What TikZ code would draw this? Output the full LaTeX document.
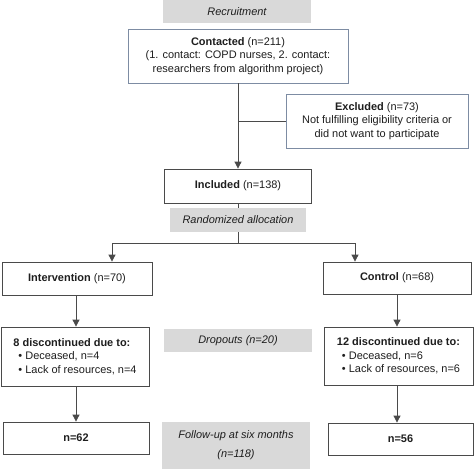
\documentclass[tikz,border=0pt]{standalone}
\usepackage{fontspec}
\setmainfont{Liberation Sans}
\usepackage{xcolor}
\usepackage{tikz}
\usetikzlibrary{arrows.meta}
\definecolor{ink}{HTML}{1E1E1E}
\definecolor{edge}{HTML}{4A4A4A}
\definecolor{bluish}{HTML}{7D8CA3}
\definecolor{band}{HTML}{D9D9D9}
\tikzset{
  box/.style={draw=edge, line width=0.8pt, fill=white, align=center, inner sep=2pt},
  bbox/.style={box, draw=bluish},
  stage/.style={fill=band, align=center, inner sep=2pt},
  link/.style={draw=edge, line width=0.8pt},
  arr/.style={link, -{Triangle[width=7pt,length=7pt]}},
  every node/.style={text=ink, font=\fontsize{11}{13.5}\selectfont}
}

\begin{document}
\begin{tikzpicture}[x=1bp,y=-1bp]
  \useasboundingbox (0,0) rectangle (474,470);

  % grey stage bands
  \node[stage, minimum width=148bp, minimum height=23bp] (recr) at (237,11.5) {\itshape Recruitment};
  \node[stage, minimum width=136bp, minimum height=24bp] (rand) at (238,220) {\itshape Randomized allocation};
  \node[stage, minimum width=148bp, minimum height=23bp] (drop) at (238,340.5) {\itshape Dropouts (n=20)};
  \node[stage, minimum width=148bp, minimum height=47bp] (fup) at (236,445.5) {\itshape Follow-up at six months\\[5.5pt]\itshape (n=118)};

  % boxes
  \node[bbox, minimum width=220bp, minimum height=54bp] (cont) at (238,56)
    {\textbf{Contacted} (n=211)\\(1. contact: COPD nurses, 2. contact:\\researchers from algorithm project)};
  \node[bbox, minimum width=182bp, minimum height=54bp] (excl) at (377,121)
    {\textbf{Excluded} (n=73)\\Not fulfilling eligibility criteria or\\did not want to participate};
  \node[box, minimum width=147bp, minimum height=34bp] (incl) at (238,186) {\textbf{Included} (n=138)};

  \node[box, minimum width=150bp, minimum height=33bp] (intv) at (77,278.5) {\textbf{Intervention} (n=70)};
  \node[box, minimum width=148bp, minimum height=32bp] (ctrl) at (397,278) {\textbf{Control} (n=68)};

  \node[box, minimum width=148bp, minimum height=59bp, align=left] (discL) at (75,356.5)
    {\textbf{8 discontinued due to:}\\\hspace{5bp}\textbullet\ Deceased, n=4\\\hspace{5bp}\textbullet\ Lack of resources, n=4};
  \node[box, minimum width=149bp, minimum height=58bp, align=left] (discR) at (398.5,356)
    {\textbf{12 discontinued due to:}\\\hspace{5bp}\textbullet\ Deceased, n=6\\\hspace{5bp}\textbullet\ Lack of resources, n=6};

  \node[box, minimum width=146bp, minimum height=32bp] (nL) at (76,438) {\textbf{n=62}};
  \node[box, minimum width=145bp, minimum height=32bp] (nR) at (400.5,439) {\textbf{n=56}};

  % connectors
  \draw[arr] (cont.south) -- (cont.south |- incl.north);
  \draw[link] (excl.west) -- (excl.west -| cont.south);
  \draw[link] (incl.south) -- (incl.south |- rand.north);

  \coordinate (splitL) at (112,243);
  \coordinate (splitR) at (355,243);
  \draw[link] (rand.south) -- (rand.south |- splitL);
  \draw[arr] (rand.south |- splitL) -- (splitL) -- (splitL |- intv.north);
  \draw[arr] (rand.south |- splitL) -- (splitR) -- (splitR |- ctrl.north);

  \draw[arr] ([xshift=-1bp]intv.south) -- ([xshift=-1bp]intv.south |- discL.north);
  \draw[arr] ([xshift=-1bp]intv.south |- discL.south) -- ([xshift=-1bp]intv.south |- nL.north);
  \draw[arr] (ctrl.south) -- (ctrl.south |- discR.north);
  \draw[arr] (ctrl.south |- discR.south) -- (ctrl.south |- nR.north);
\end{tikzpicture}
\end{document}
